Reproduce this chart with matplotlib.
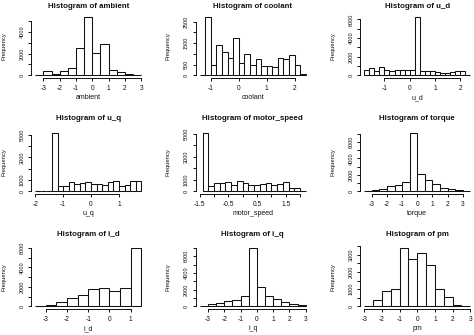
import numpy as np
import matplotlib
matplotlib.use("Agg")
import matplotlib.pyplot as plt

plt.rcParams["font.family"] = ["Liberation Sans", "DejaVu Sans"]

# Bin edges and counts for each variable
ambient_edges = [-3.5, -3.0, -2.5, -2.0, -1.5, -1.0, -0.5, 0.0, 0.5, 1.0, 1.5, 2.0, 2.5, 3.0]
ambient_counts = [15, 420, 120, 360, 700, 2500, 5330, 2060, 2880, 515, 330, 120, 10]

coolant_edges = [-1.4, -1.2, -1.0, -0.8, -0.6, -0.4, -0.2, 0.0, 0.2, 0.4, 0.6,
                 0.8, 1.0, 1.2, 1.4, 1.6, 1.8, 2.0, 2.2, 2.4]
coolant_counts = [10, 2700, 480, 1420, 1090, 830, 1740, 555, 975, 465, 775,
                  435, 435, 390, 815, 775, 960, 480, 75]

u_d_edges = [-1.8, -1.6, -1.4, -1.2, -1.0, -0.8, -0.6, -0.4, -0.2, 0.0, 0.2,
             0.4, 0.6, 0.8, 1.0, 1.2, 1.4, 1.6, 1.8, 2.0, 2.2, 2.4]
u_d_counts = [560, 770, 520, 860, 600, 520, 570, 540, 590, 620, 6213,
              420, 420, 420, 340, 300, 280, 400, 420, 420, 70]

u_q_edges = [-2.0, -1.8, -1.6, -1.4, -1.2, -1.0, -0.8, -0.6, -0.4, -0.2, 0.0,
             0.2, 0.4, 0.6, 0.8, 1.0, 1.2, 1.4, 1.6, 1.8]
u_q_counts = [3, 3, 3, 5120, 440, 440, 850, 670, 700, 850, 610,
              610, 585, 790, 880, 440, 585, 880, 880]

motor_speed_edges = [-1.4, -1.2, -1.0, -0.8, -0.6, -0.4, -0.2, 0.0, 0.2, 0.4,
                     0.6, 0.8, 1.0, 1.2, 1.4, 1.6, 1.8, 2.0, 2.2]
motor_speed_counts = [5060, 490, 750, 750, 830, 575, 890, 690, 545, 545,
                      630, 690, 575, 630, 775, 315, 260, 60]

torque_edges = [-3.5, -3.0, -2.5, -2.0, -1.5, -1.0, -0.5, 0.0, 0.5, 1.0, 1.5, 2.0, 2.5, 3.0, 3.5]
torque_counts = [20, 120, 240, 600, 810, 1130, 7030, 2060, 1410, 890, 440, 240, 120, 20]

i_d_edges = [-3.5, -3.0, -2.5, -2.0, -1.5, -1.0, -0.5, 0.0, 0.5, 1.0, 1.5]
i_d_counts = [15, 100, 400, 810, 1120, 1800, 1860, 1590, 1930, 5950]

i_q_edges = [-3.5, -3.0, -2.5, -2.0, -1.5, -1.0, -0.5, 0.0, 0.5, 1.0, 1.5, 2.0, 2.5, 3.0]
i_q_counts = [30, 235, 350, 630, 745, 1290, 6940, 2270, 1250, 940, 510, 310, 160]

pm_edges = [-3.0, -2.5, -2.0, -1.5, -1.0, -0.5, 0.0, 0.5, 1.0, 1.5, 2.0, 2.5, 3.0]
pm_counts = [15, 360, 900, 1010, 3380, 2770, 3080, 2430, 990, 535, 75, 40]

# Axis ticks and their labels (blank = unlabeled tick)
x_ticks_3 = [-3, -2, -1, 0, 1, 2, 3]
x_labels_3 = ["-3", "-2", "-1", "0", "1", "2", "3"]
x_ticks_12 = [-1, 0, 1, 2]
x_labels_12 = ["-1", "0", "1", "2"]
x_ticks_uq = [-2, -1, 0, 1]
x_labels_uq = ["-2", "-1", "0", "1"]
x_ticks_ms = [-1.5, -1.0, -0.5, 0.0, 0.5, 1.0, 1.5, 2.0]
x_labels_ms = ["-1.5", "", "-0.5", "", "0.5", "", "1.5", ""]
x_ticks_id = [-3, -2, -1, 0, 1]
x_labels_id = ["-3", "-2", "-1", "0", "1"]

y_ticks_5k = [0, 1000, 2000, 3000, 4000, 5000]
y_labels_5k_even = ["0", "", "2000", "", "4000", ""]
y_labels_5k_odd = ["0", "1000", "", "3000", "", "5000"]
y_ticks_6k = [0, 1000, 2000, 3000, 4000, 5000, 6000]
y_labels_6k = ["0", "", "2000", "", "4000", "", "6000"]
y_ticks_7k = [0, 1000, 2000, 3000, 4000, 5000, 6000, 7000]
y_labels_7k = ["0", "", "2000", "", "4000", "", "6000", ""]
y_ticks_cool = [0, 500, 1000, 1500, 2000, 2500]
y_labels_cool = ["0", "500", "", "1500", "", "2500"]
y_ticks_pm = [0, 500, 1000, 1500, 2000, 2500, 3000, 3500]
y_labels_pm = ["0", "", "1000", "", "2000", "", "3000", ""]

panels = [
    ("ambient", ambient_edges, ambient_counts, x_ticks_3, x_labels_3, y_ticks_5k, y_labels_5k_even),
    ("coolant", coolant_edges, coolant_counts, x_ticks_12, x_labels_12, y_ticks_cool, y_labels_cool),
    ("u_d", u_d_edges, u_d_counts, x_ticks_12, x_labels_12, y_ticks_6k, y_labels_6k),
    ("u_q", u_q_edges, u_q_counts, x_ticks_uq, x_labels_uq, y_ticks_5k, y_labels_5k_odd),
    ("motor_speed", motor_speed_edges, motor_speed_counts, x_ticks_ms, x_labels_ms, y_ticks_5k, y_labels_5k_odd),
    ("torque", torque_edges, torque_counts, x_ticks_3, x_labels_3, y_ticks_7k, y_labels_7k),
    ("i_d", i_d_edges, i_d_counts, x_ticks_id, x_labels_id, y_ticks_6k, y_labels_6k),
    ("i_q", i_q_edges, i_q_counts, x_ticks_3, x_labels_3, y_ticks_7k, y_labels_7k),
    ("pm", pm_edges, pm_counts, x_ticks_3, x_labels_3, y_ticks_pm, y_labels_pm),
]

W, H = 474, 335
fig = plt.figure(figsize=(W / 100, H / 100), dpi=100)

col_left = [31, 195.5, 360]
row_top = [15, 131, 246]
pw, ph = 114.5, 63
title_y = [6, 118.5, 234.5]
ink = "#111111"

for i, (name, edges, counts, xt, xl, yt, yl) in enumerate(panels):
    r, c = divmod(i, 3)
    ax = fig.add_axes([col_left[c] / W, 1 - (row_top[r] + ph) / H, pw / W, ph / H])

    edges = np.array(edges)
    ax.bar(edges[:-1], counts, width=np.diff(edges), align="edge",
           facecolor="white", edgecolor=ink, linewidth=0.75)

    # R-style 4% padding around the data range
    xlo, xhi = min(edges[0], xt[0]), max(edges[-1], xt[-1])
    xpad = 0.04 * (edges[-1] - edges[0])
    ax.set_xlim(xlo - xpad, xhi + xpad)
    ymax = max(counts)
    ax.set_ylim(-0.045 * ymax, 1.04 * ymax)

    for s in ["top", "right"]:
        ax.spines[s].set_visible(False)
    ax.spines["bottom"].set_bounds(xt[0], xt[-1])
    ax.spines["left"].set_bounds(yt[0], yt[-1])
    for s in ["bottom", "left"]:
        ax.spines[s].set_linewidth(0.7)
        ax.spines[s].set_color(ink)

    ax.set_xticks(xt)
    ax.set_xticklabels(xl, fontsize=4.8, color=ink)
    ax.set_yticks(yt)
    ax.set_yticklabels(yl, fontsize=4.0, rotation=90, va="center", color=ink)
    ax.tick_params(direction="out", length=2.4, width=0.7, pad=2.4, color=ink)

    ax.set_xlabel(name, fontsize=5.0, labelpad=2, color=ink)
    ax.set_ylabel("Frequency", fontsize=4.2, color=ink)
    ax.yaxis.set_label_coords(-25 / pw, 0.5)

    fig.text((col_left[c] + pw / 2) / W, 1 - title_y[r] / H, "Histogram of " + name,
             ha="center", va="center", fontsize=5.7, fontweight="bold", color=ink)

fig.savefig("out.png", dpi=100)
